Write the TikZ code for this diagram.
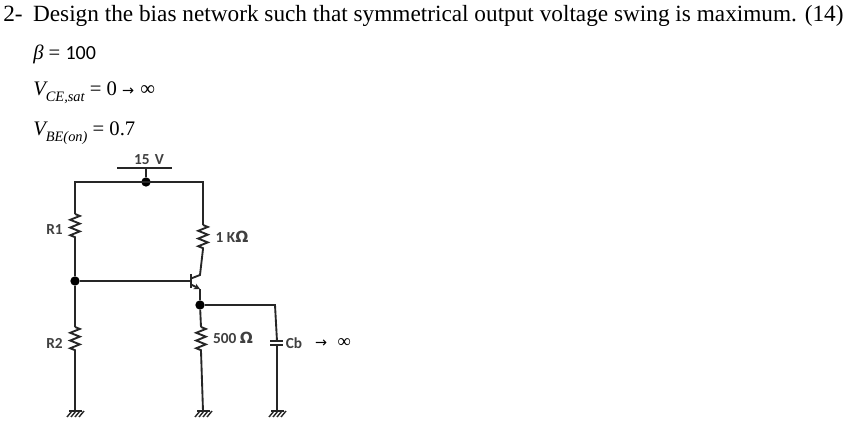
\documentclass[tikz,border=0pt]{standalone}
\usepackage{fontspec}
\setmainfont{Liberation Serif}
\newfontfamily\labfont{Carlito}
\newfontfamily\symfont{DejaVu Sans}
\usetikzlibrary{decorations.pathmorphing,arrows.meta,calc}
\newcommand{\subfs}{\fontsize{10.8}{13}\selectfont}
\tikzset{
  x=0.75pt,y=-0.75pt,
  wire/.style={line width=1.4pt,color=black!85},
  res/.style={wire,decorate,decoration={zigzag,segment length=5.8pt,amplitude=3.6pt}},
  dotnode/.style={circle,fill=black,inner sep=0pt,minimum size=7pt},
  lab/.style={font=\labfont\bfseries\fontsize{11.5}{13}\selectfont,inner sep=0pt,color=black!75},
  head/.style={font=\fontsize{17.45}{19}\selectfont,inner sep=0pt,anchor=west},
  eq/.style={font=\fontsize{15.5}{17}\selectfont,inner sep=0pt,anchor=base west},
  gndline/.style={line width=1.1pt,color=black!85}
}
\begin{document}
\begin{tikzpicture}
\useasboundingbox (0,0) rectangle (847,445);
\node[head] (title) at (3,16) {2-\hspace{0.45em}Design the bias network such that symmetrical output voltage swing is maximum. (14)};
\node[eq] (beta) at (33,60) {\itshape β\upshape\ = {\labfont\fontsize{15}{17}\selectfont 100}};
\node[eq] (vce) at (33,96) {\itshape V\raisebox{-0.28em}{\subfs CE,sat}\upshape\ = 0 {\symfont\subfs →}\hspace{0.3em}∞};
\node[eq] (vbe) at (33,136) {\itshape V\raisebox{-0.28em}{\subfs BE(on)}\upshape\ = 0.7};

\coordinate (vl) at (117,168); \coordinate (vr) at (172,168); \coordinate (vm) at (146,168);
\node[dotnode] (top) at (146,182) {};
\coordinate (tl) at (75,182); \coordinate (tr) at (203,182);
\coordinate (r1a) at (75,214); \coordinate (r1b) at (75,238);
\node[dotnode] (bj) at (75,281) {};
\coordinate (r2a) at (75,327); \coordinate (r2b) at (75,351);
\coordinate (g1) at (75,411);
\coordinate (rca) at (203,225); \coordinate (rcb) at (203,249);
\coordinate (c) at (200,275); \coordinate (b) at (191,281);
\coordinate (bt) at (191,274); \coordinate (bb) at (191,288);
\coordinate (cb) at (191,278.5); \coordinate (eb) at (191,284.5);
\coordinate (e) at (200,289);
\node[dotnode] (ej) at (200,305) {};
\coordinate (rea) at (201,327); \coordinate (reb) at (201,351);
\coordinate (g2) at (203,411);
\coordinate (cr) at (275,305); \coordinate (cp1) at (277,341); \coordinate (cp2) at (277,345);
\coordinate (g3) at (277,411);
\coordinate (p1l) at (270,341); \coordinate (p1r) at (283,341);
\coordinate (p2l) at (270,345); \coordinate (p2r) at (283,345);

\draw[wire] (vl) -- (vr);
\draw[wire] (vm) -- (top);
\draw[wire] (r1a) -- (tl) -- (tr) -- (rca);
\draw[res] (r1a) -- (r1b);
\draw[wire] (r1b) -- (bj);
\draw[wire] (bj) -- (r2a);
\draw[res] (r2a) -- (r2b);
\draw[wire] (r2b) -- (g1);
\draw[wire] (bj) -- (b);
\draw[res] (rca) -- (rcb);
\draw[wire] (rcb) -- (c) -- (cb);
\draw[wire] (bt) -- (bb);
\draw[wire,-{Stealth[length=4.5pt,width=4.5pt]}] (eb) -- (e);
\draw[wire] (e) -- (ej);
\draw[wire] (ej) -- (rea);
\draw[res] (rea) -- (reb);
\draw[wire] (reb) -- (g2);
\draw[wire] (ej) -- (cr) -- (cp1);
\draw[wire] (cp2) -- (g3);
\draw[wire] (p1l) -- (p1r);
\draw[wire] (p2l) -- (p2r);
\foreach \g in {g1,g2,g3}{
  \draw[wire] ($(\g)+(-6,0)$) -- ($(\g)+(7,0)$);
  \foreach \d in {-3,1,5,9} \draw[gndline] ($(\g)+(\d,0)$) -- ($(\g)+(\d-5,6)$);
}

\node[lab] (v15) at (149,160) {15\hspace{0.35em}V};
\node[lab] (lr1) at (54.5,230) {R1};
\node[lab] (lrc) at (232,237) {1 K{\symfont Ω}};
\node[lab] (lr2) at (54.5,343) {R2};
\node[lab] (lre) at (233,338) {500 {\symfont Ω}};
\node[lab] (lcb) at (294,343) {Cb};
\node[font=\fontsize{14}{16}\selectfont,inner sep=0pt] (inf) at (333,343) {{\symfont\subfs →}\hspace{0.55em}∞};
\end{tikzpicture}
\end{document}
